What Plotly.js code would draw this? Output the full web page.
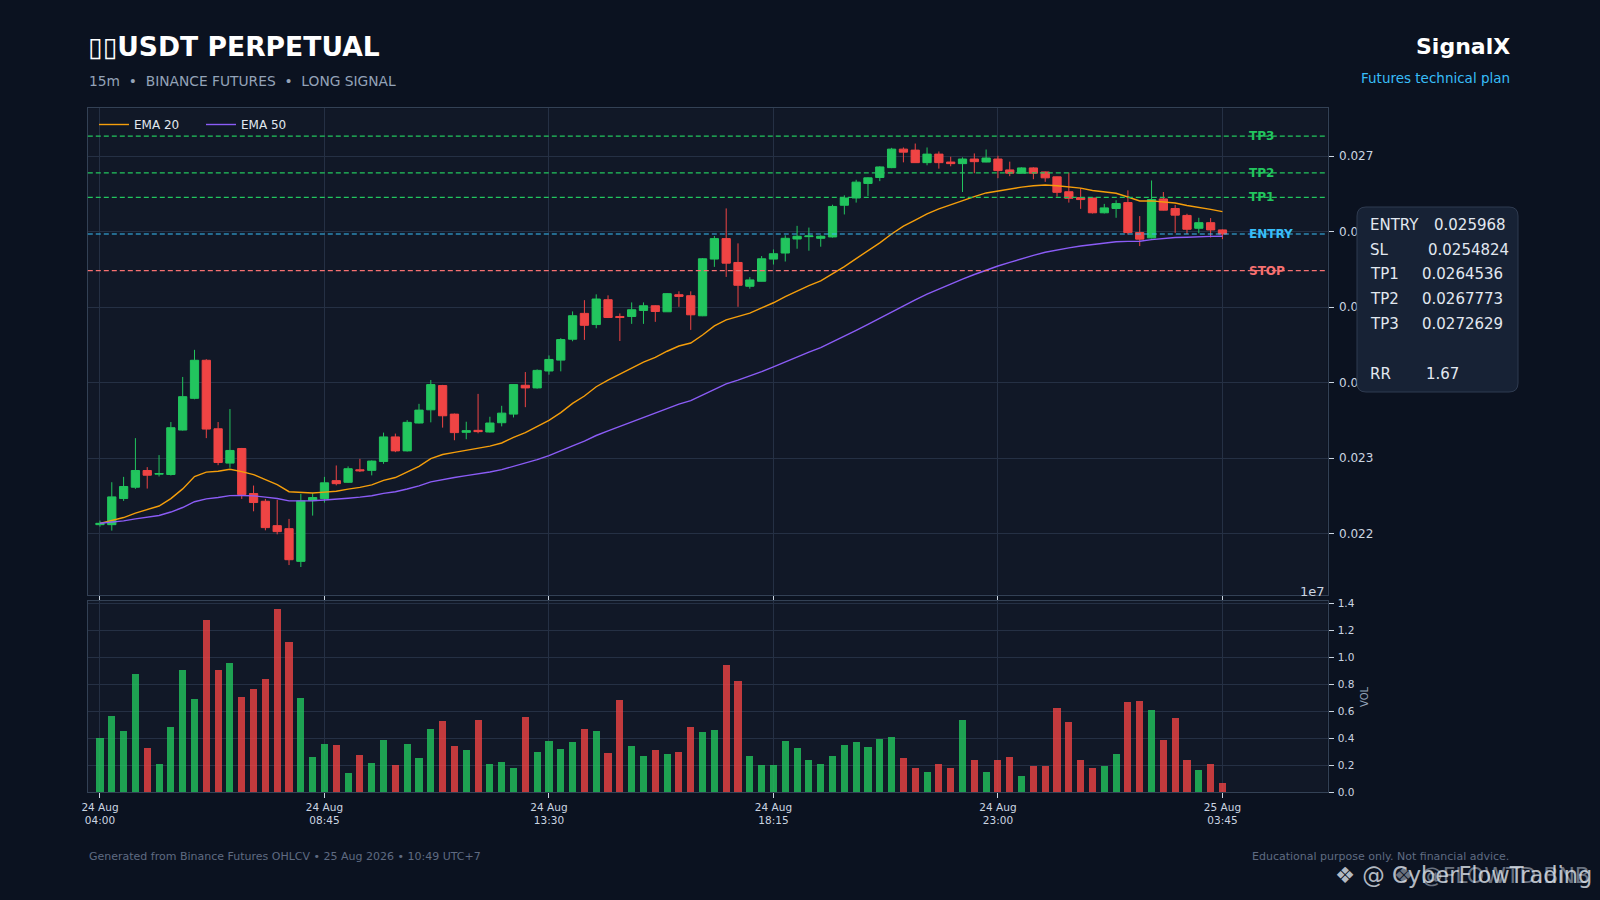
<!DOCTYPE html>
<html>
<head>
<meta charset="utf-8">
<script src="https://cdn.plot.ly/plotly-3.0.1.min.js"></script>
<style>
html,body{margin:0;padding:0;background:#0b1220;}
#chart{width:1600px;height:900px;}
</style>
</head>
<body>
<div id="chart"></div>
<script>
// ---- Data (15m candles, 24 Aug 04:00 -> 25 Aug 03:45) ----
const xTickIdx = [0, 19, 38, 57, 76, 95];
const xTickLabels = ["24 Aug<br>04:00", "24 Aug<br>08:45", "24 Aug<br>13:30", "24 Aug<br>18:15", "24 Aug<br>23:00", "25 Aug<br>03:45"];

const openP = [0.022119,0.022119,0.022465,0.022615,0.022836,0.022788,0.022783,0.023372,0.023792,0.024296,
0.023389,0.022934,0.023128,0.022531,0.022429,0.022106,0.022066,0.021633,0.022438,0.022465,
0.022702,0.022680,0.022846,0.022838,0.022956,0.023281,0.023096,0.023465,0.023640,0.023961,
0.023583,0.023342,0.023368,0.023346,0.023469,0.023583,0.023965,0.023930,0.024154,0.024298,
0.024575,0.024917,0.024769,0.025098,0.024876,0.024876,0.024956,0.025018,0.024938,0.025164,
0.025151,0.024885,0.025636,0.025907,0.025591,0.025276,0.025342,0.025636,0.025716,0.025902,
0.025933,0.025911,0.025929,0.026349,0.026445,0.026638,0.026716,0.026847,0.027092,0.027079,
0.026913,0.027026,0.026921,0.026900,0.026961,0.026921,0.026961,0.026817,0.026773,0.026843,
0.026790,0.026725,0.026528,0.026450,0.026445,0.026249,0.026306,0.026384,0.025987,0.025917,
0.026432,0.026306,0.026214,0.026044,0.026118,0.026022];
const highP = [0.022173,0.022681,0.022752,0.023265,0.022881,0.023040,0.023478,0.024075,0.024434,0.024310,
0.023478,0.023650,0.023135,0.022637,0.022460,0.022447,0.022195,0.022527,0.022535,0.022752,
0.022903,0.022890,0.022991,0.022970,0.023338,0.023325,0.023504,0.023719,0.024035,0.023970,
0.023590,0.023482,0.023851,0.023548,0.023693,0.023980,0.024140,0.024175,0.024360,0.024588,
0.024943,0.025092,0.025169,0.025156,0.024916,0.025062,0.025062,0.025025,0.025187,0.025209,
0.025209,0.025650,0.025942,0.026307,0.025844,0.025396,0.025676,0.025764,0.025951,0.026076,
0.026053,0.025951,0.026356,0.026480,0.026686,0.026720,0.026865,0.027109,0.027114,0.027166,
0.027114,0.027061,0.026991,0.026983,0.027035,0.027087,0.027004,0.026926,0.026852,0.026852,
0.026795,0.026730,0.026782,0.026576,0.026450,0.026367,0.026415,0.026546,0.026205,0.026677,
0.026524,0.026354,0.026236,0.026183,0.026179,0.026030];
const lowP = [0.022093,0.022040,0.022434,0.022593,0.022597,0.022757,0.022770,0.023365,0.023779,0.023265,
0.022907,0.022872,0.022460,0.022296,0.022044,0.021991,0.021584,0.021558,0.022239,0.022411,
0.022640,0.022671,0.022816,0.022772,0.022925,0.023079,0.023088,0.023460,0.023474,0.023404,
0.023237,0.023250,0.023329,0.023340,0.023421,0.023539,0.023675,0.023921,0.024105,0.024149,
0.024548,0.024566,0.024720,0.024855,0.024551,0.024778,0.024778,0.024805,0.024935,0.025004,
0.024698,0.024880,0.025533,0.025400,0.025004,0.025244,0.025340,0.025564,0.025604,0.025773,
0.025747,0.025800,0.025920,0.026227,0.026384,0.026472,0.026668,0.026840,0.026917,0.026910,
0.026878,0.026834,0.026865,0.026524,0.026773,0.026918,0.026707,0.026734,0.026769,0.026694,
0.026659,0.026463,0.026384,0.026301,0.026240,0.026240,0.026183,0.025961,0.025808,0.025910,
0.026280,0.025983,0.025969,0.025978,0.025921,0.025900];
const closeP = [0.022137,0.022487,0.022624,0.022836,0.022774,0.022796,0.023403,0.023814,0.024296,0.023385,
0.022942,0.023102,0.022518,0.022412,0.022080,0.022027,0.021655,0.022434,0.022478,0.022673,
0.022662,0.022860,0.022833,0.022961,0.023281,0.023096,0.023474,0.023636,0.023974,0.023561,
0.023338,0.023364,0.023351,0.023465,0.023596,0.023974,0.023930,0.024162,0.024307,0.024570,
0.024886,0.024759,0.025107,0.024862,0.024862,0.024965,0.025018,0.024942,0.025178,0.025142,
0.024898,0.025640,0.025907,0.025582,0.025289,0.025360,0.025640,0.025707,0.025911,0.025938,
0.025942,0.025938,0.026333,0.026445,0.026655,0.026712,0.026856,0.027092,0.027052,0.026913,
0.027026,0.026913,0.026900,0.026961,0.026926,0.026974,0.026808,0.026773,0.026843,0.026773,
0.026712,0.026520,0.026441,0.026424,0.026249,0.026314,0.026371,0.025987,0.025900,0.026424,
0.026284,0.026218,0.026031,0.026118,0.026022,0.025968];
const volume = [3970000,5630000,4520000,8740000,3260000,2070000,4810000,9040000,6890000,12740000,
9040000,9560000,7040000,7630000,8370000,13560000,11110000,6960000,2590000,3560000,
3480000,1410000,2740000,2150000,3850000,1980000,3560000,2520000,4670000,5260000,
3410000,3110000,5330000,2070000,2220000,1780000,5560000,2960000,3780000,3190000,
3700000,4700000,4500000,2900000,6800000,3400000,2700000,3100000,2800000,2950000,
4850000,4450000,4600000,9400000,8200000,2700000,2000000,2000000,3800000,3250000,
2400000,2100000,2700000,3500000,3700000,3300000,3900000,4100000,2500000,1800000,
1500000,2100000,1800000,5300000,2350000,1500000,2400000,2600000,1150000,1950000,
1950000,6200000,5200000,2350000,1800000,1950000,2800000,6650000,6750000,6050000,
3850000,5500000,2350000,1600000,2100000,700000];

const priceTicks = [0.022, 0.023, 0.024, 0.025, 0.026, 0.027];
const priceTickLabels = ["0.022", "0.023", "0.024", "0.025", "0.026", "0.027"];
const volTicks = [0, 2e6, 4e6, 6e6, 8e6, 10e6, 12e6, 14e6];
const volTickLabels = ["0.0", "0.2", "0.4", "0.6", "0.8", "1.0", "1.2", "1.4"];

const levelNames = ["TP3", "TP2", "TP1", "ENTRY", "STOP"];
const levelPrices = [0.0272629, 0.0267773, 0.0264536, 0.025968, 0.0254824];
const levelColors = ["#22c55e", "#22c55e", "#22c55e", "#38bdf8", "#f87171"];

const planLabels = ["ENTRY", "SL", "TP1", "TP2", "TP3", "RR"];
const planValues = ["0.025968", "0.0254824", "0.0264536", "0.0267773", "0.0272629", "1.67"];

// ---- derived ----
const idx = closeP.map((_, i) => i);
function ema(arr, n) {
  const a = 2 / (n + 1); const out = [arr[0]];
  for (let i = 1; i < arr.length; i++) out.push(a * arr[i] + (1 - a) * out[i - 1]);
  return out;
}
const ema20 = ema(closeP, 20);
const ema50 = ema(closeP, 50);
const volColors = closeP.map((c, i) => c >= openP[i] ? "rgba(34,197,94,0.8)" : "rgba(239,68,68,0.8)");

// ---- geometry helpers (px -> paper) ----
const W = 1600, H = 900;
const px = x => x / W, py = y => 1 - y / H;
const FONT = "DejaVu Sans, Noto Sans, sans-serif";
const TICKC = "#cbd5e1", GRID = "#253044", FRAME = "#334155";

const traces = [
  { type: "candlestick", x: idx, open: openP, high: highP, low: lowP, close: closeP,
    xaxis: "x", yaxis: "y", showlegend: false, hoverinfo: "skip",
    increasing: { line: { color: "#22c55e", width: 1 }, fillcolor: "#22c55e" },
    decreasing: { line: { color: "#ef4444", width: 1 }, fillcolor: "#ef4444" } },
  { type: "scatter", mode: "lines", x: idx, y: ema20, name: "EMA 20", xaxis: "x", yaxis: "y",
    line: { color: "#f59e0b", width: 1.4 } },
  { type: "scatter", mode: "lines", x: idx, y: ema50, name: "EMA 50", xaxis: "x", yaxis: "y",
    line: { color: "#8b5cf6", width: 1.4 } },
  { type: "bar", x: idx, y: volume, xaxis: "x2", yaxis: "y2", width: 0.6, showlegend: false,
    marker: { color: volColors, line: { width: 0 } }, hoverinfo: "skip" }
];

const xRange = [-1.03, 103.9];
const xDom = [px(87.8), px(1327.6)];

const shapes = levelPrices.map((p, i) => ({
  type: "line", xref: "x domain", yref: "y", x0: 0, x1: 1, y0: p, y1: p,
  line: { color: levelColors[i], width: 1.2, dash: "5px,3px" }, layer: "above"
}));
// info box (rounded)
(function () {
  const x0 = px(1357), x1 = px(1518), yt = py(207), yb = py(392), rx = 9 / W, ry = 9 / H;
  const path = `M ${x0 + rx},${yt} L ${x1 - rx},${yt} Q ${x1},${yt} ${x1},${yt - ry} L ${x1},${yb + ry} Q ${x1},${yb} ${x1 - rx},${yb} L ${x0 + rx},${yb} Q ${x0},${yb} ${x0},${yb + ry} L ${x0},${yt - ry} Q ${x0},${yt} ${x0 + rx},${yt} Z`;
  shapes.push({ type: "path", xref: "paper", yref: "paper", path: path, fillcolor: "#172235",
    line: { color: "#2f3b50", width: 1 }, layer: "above" });
})();

const annotations = [];
levelNames.forEach((n, i) => annotations.push({
  xref: "paper", yref: "y", x: px(1247), y: levelPrices[i], xanchor: "left", yanchor: "middle",
  text: "<b>" + n + "</b>", showarrow: false, font: { family: FONT, size: 12, color: levelColors[i] }
}));
const planRowY = [224.5, 250, 274.5, 299, 324.5, 373.5];
const planValX = [1431.6, 1425.5, 1420.4, 1420.4, 1420.4, 1423.5];
planLabels.forEach((l, i) => {
  annotations.push({ xref: "paper", yref: "paper", x: px(1367.5), y: py(planRowY[i]), xanchor: "left", yanchor: "middle",
    text: l, showarrow: false, font: { family: FONT, size: 15, color: "#e2e8f0" } });
  annotations.push({ xref: "paper", yref: "paper", x: px(planValX[i]), y: py(planRowY[i]), xanchor: "left", yanchor: "middle",
    text: planValues[i], showarrow: false, font: { family: FONT, size: 15, color: "#e2e8f0" } });
});
// titles
annotations.push({ xref: "paper", yref: "paper", x: px(86), y: py(46), xanchor: "left", yanchor: "middle",
  text: "<b>\u25AF\u25AFUSDT PERPETUAL</b>", showarrow: false, font: { family: FONT, size: 26.6, color: "#ffffff" } });
annotations.push({ xref: "paper", yref: "paper", x: px(87), y: py(81), xanchor: "left", yanchor: "middle",
  text: "15m  \u2022  BINANCE FUTURES  \u2022  LONG SIGNAL".replace(/  /g, "\u00a0 "), showarrow: false,
  font: { family: FONT, size: 13.8, color: "#94a3b8" } });
annotations.push({ xref: "paper", yref: "paper", x: px(1512), y: py(47), xanchor: "right", yanchor: "middle",
  text: "<b>SignalX</b>", showarrow: false, font: { family: FONT, size: 22, color: "#ffffff" } });
annotations.push({ xref: "paper", yref: "paper", x: px(1512), y: py(78.5), xanchor: "right", yanchor: "middle",
  text: "Futures technical plan", showarrow: false, font: { family: FONT, size: 13.5, color: "#38bdf8" } });
// axis extras
annotations.push({ xref: "paper", yref: "paper", x: px(1327), y: py(591), xanchor: "right", yanchor: "middle",
  text: "1e7", showarrow: false, font: { family: FONT, size: 13, color: TICKC } });
annotations.push({ xref: "paper", yref: "paper", x: px(1364), y: py(697), xanchor: "center", yanchor: "middle",
  text: "VOL", textangle: -90, showarrow: false, font: { family: FONT, size: 10, color: "#94a3b8" } });
// footer
annotations.push({ xref: "paper", yref: "paper", x: px(87), y: py(856), xanchor: "left", yanchor: "middle",
  text: "Generated from Binance Futures OHLCV \u2022 25 Aug 2026 \u2022 10:49 UTC+7", showarrow: false,
  font: { family: FONT, size: 11, color: "#5f6b82" } });
annotations.push({ xref: "paper", yref: "paper", x: px(1511), y: py(856), xanchor: "right", yanchor: "middle",
  text: "Educational purpose only. Not financial advice.", showarrow: false,
  font: { family: FONT, size: 11, color: "#5f6b82" } });
// watermark (two overlaid marks, as in the source image)
annotations.push({ xref: "paper", yref: "paper", x: px(1592), y: py(875), xanchor: "right", yanchor: "middle",
  text: "\u2756 @FLOWTD.BNB", showarrow: false, font: { family: FONT, size: 22, color: "rgba(203,213,225,0.5)" } });
annotations.push({ xref: "paper", yref: "paper", x: px(1594), y: py(875), xanchor: "right", yanchor: "middle",
  text: "\u2756 @ CyberFlowTrading", showarrow: false, font: { family: FONT, size: 22.5, color: "rgba(226,232,240,0.8)" } });

const axBase = { showline: true, mirror: true, linecolor: FRAME, linewidth: 1, gridcolor: GRID, gridwidth: 1,
  zeroline: false, ticks: "outside", ticklen: 5, tickcolor: TICKC, tickwidth: 1,
  tickfont: { family: FONT, size: 12, color: TICKC } };

const layout = {
  width: W, height: H, margin: { l: 0, r: 0, t: 0, b: 0 },
  paper_bgcolor: "#0b1220", plot_bgcolor: "#111827",
  font: { family: FONT, color: TICKC },
  showlegend: true,
  legend: { x: px(94), y: py(110), xanchor: "left", yanchor: "top", orientation: "h",
    bgcolor: "rgba(0,0,0,0)", font: { family: FONT, size: 12, color: "#e2e8f0" }, entrywidth: 62 },
  xaxis: Object.assign({}, axBase, { domain: xDom, range: xRange, anchor: "y", tickvals: xTickIdx,
    ticktext: xTickLabels, showticklabels: false, rangeslider: { visible: false } }),
  yaxis: Object.assign({}, axBase, { domain: [py(594.9), py(108.2)], range: [0.021189, 0.027634], side: "right",
    anchor: "x", tickvals: priceTicks, ticktext: priceTickLabels, ticklabelstandoff: 3 }),
  xaxis2: Object.assign({}, axBase, { domain: xDom, range: xRange, anchor: "y2", matches: "x", tickvals: xTickIdx,
    ticktext: xTickLabels, tickfont: { family: FONT, size: 10.5, color: TICKC } }),
  yaxis2: Object.assign({}, axBase, { domain: [py(792), py(601)], range: [0, 14150000], side: "right",
    anchor: "x2", tickvals: volTicks, ticktext: volTickLabels, ticklabelstandoff: 2,
    tickfont: { family: FONT, size: 10.5, color: TICKC } }),
  shapes: shapes, annotations: annotations, bargap: 0, boxgap: 0.3, boxgroupgap: 0
};

Plotly.newPlot("chart", traces, layout, { staticPlot: true, displayModeBar: false });
</script>
</body>
</html>
